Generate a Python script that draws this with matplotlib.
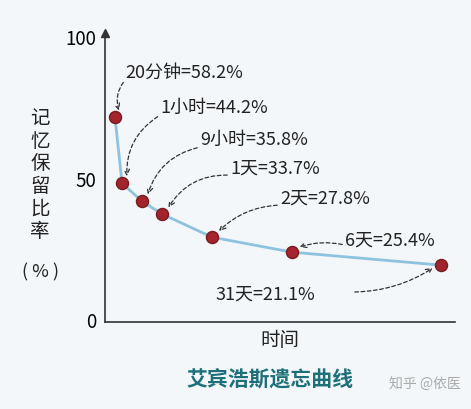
import matplotlib
matplotlib.use("Agg")
import matplotlib.pyplot as plt

plt.rcParams['font.family'] = ['Noto Sans CJK SC', 'DejaVu Sans']

x_vals = [10, 17, 37, 57, 107, 187, 336]
y_vals = [71.7, 48.4, 42.0, 37.5, 29.3, 24.0, 19.4]
labels = ["20分钟=58.2%", "1小时=44.2%", "9小时=35.8%", "1天=33.7%",
          "2天=27.8%", "6天=25.4%", "31天=21.1%"]
# label positions in pixel space (left, center y) of the 471x409 picture
label_px = [(125, 73), (160, 108), (200, 140), (230, 168), (280, 198), (345, 241), (215, 295)]
arrow_start_px = [(125, 80), (160, 115), (200, 147), (230, 175), (280, 205), (345, 245), (352, 292)]
rads = [0.3, 0.3, 0.3, 0.3, 0.2, 0.15, 0.15]

W, H = 471, 409
fig = plt.figure(figsize=(W/100, H/100), dpi=100)
fig.patch.set_facecolor('#f3f7fa')
ax = fig.add_axes([105/W, (H-322)/H, 350/W, (322-33)/H])
ax.set_facecolor('#f3f7fa')
ax.set_xlim(0, 350)
ax.set_ylim(-0.7, 101.5)

def to_data(px, py):
    return px - 105, (320 - py) / 2.83

ax.plot(x_vals, y_vals, color='#8ec3e0', lw=2, zorder=2)
ax.scatter(x_vals, y_vals, s=75, color='#a3242c', edgecolor='#7a1a20', zorder=3)

for i, (lab, (px, py), (sx, sy), (xv, yv), r) in enumerate(zip(labels, label_px, arrow_start_px,
                                                zip(x_vals, y_vals), rads)):
    tx, ty = to_data(px, py)
    ax.text(tx, ty, lab, fontsize=13, va='center', ha='left', color='#222222')
    target = (xv - 6, yv - 0.5) if i == 6 else (xv + 5, yv + 1.5)
    ax.annotate("", xy=target, xytext=to_data(sx, sy),
                arrowprops=dict(arrowstyle='->', linestyle=(0, (3, 2)), color='#333333',
                                lw=0.9, connectionstyle=f'arc3,rad={r}'))

for s in ['top', 'right']:
    ax.spines[s].set_visible(False)
for s in ['left', 'bottom']:
    ax.spines[s].set_color('#333333')
    ax.spines[s].set_linewidth(1.2)
ax.plot(0, 1, '^', transform=ax.transAxes, color='#333333', ms=6, clip_on=False)
ax.set_xticks([])
ax.set_yticks([0, 50, 100])
ax.set_yticklabels(['0', '50', '100'], fontsize=13.5)
ax.tick_params(axis='y', length=0, pad=6)

fig.text(40/W, 1 - 175/H, "记\n忆\n保\n留\n比\n率", fontsize=14, ha='center', va='center',
         linespacing=1.1, color='#222222')
fig.text(40/W, 1 - 272/H, "( % )", fontsize=13, ha='center', va='center', color='#222222')
fig.text(280/W, 1 - 340/H, "时间", fontsize=14, ha='center', va='center', color='#222222')
fig.text(270/W, 1 - 380/H, "艾宾浩斯遗忘曲线", fontsize=15, ha='center', va='center',
         color='#1d6f7a', fontweight='bold', family=['Noto Sans CJK SC'])
fig.text(425/W, 1 - 385/H, "知乎 @依医", fontsize=10, ha='center', va='center', color='#aaaaaa')

fig.savefig('out.png', dpi=100, facecolor=fig.get_facecolor())
